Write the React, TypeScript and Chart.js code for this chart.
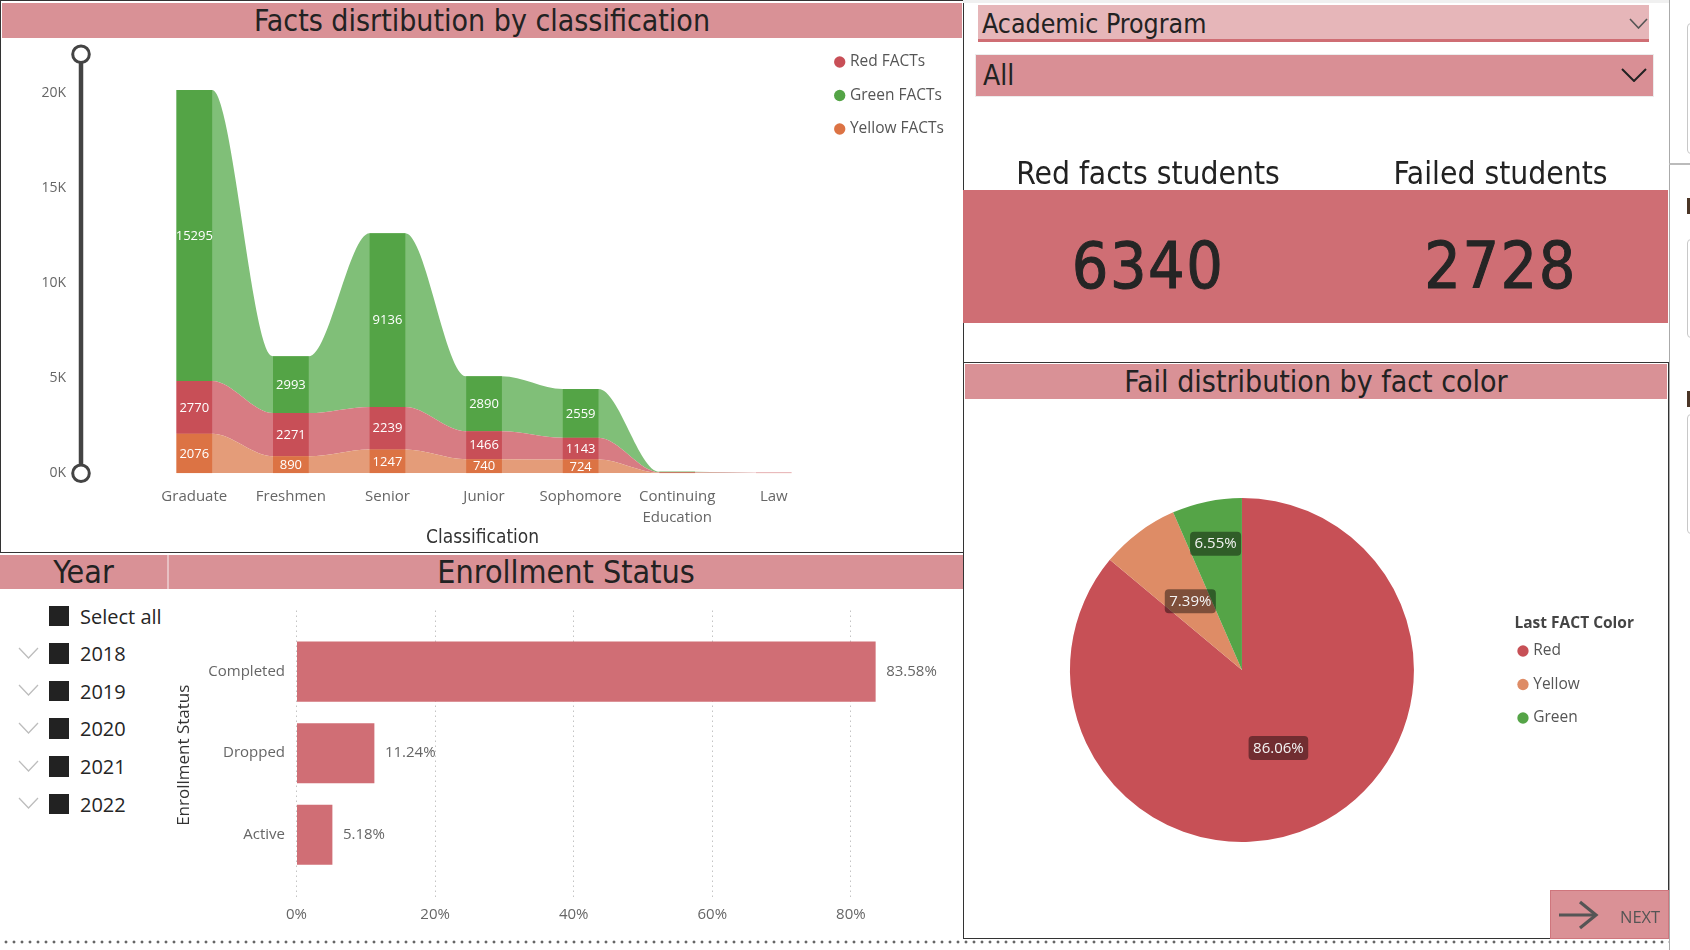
import React, { useEffect, useRef } from 'react';
import { Chart, registerables } from 'chart.js';

Chart.register(...registerables);

// ---------------- data ----------------
const classificationLabels: (string | string[])[] = ['Graduate', 'Freshmen', 'Senior', 'Junior', 'Sophomore', ['Continuing', 'Education'], 'Law'];
const yellowFacts = [2076, 890, 1247, 740, 724, 25, 10];
const redFacts = [2770, 2271, 2239, 1466, 1143, 25, 10];
const greenFacts = [15295, 2993, 9136, 2890, 2559, 25, 10];
const factSeriesNames = ['Yellow FACTs', 'Red FACTs', 'Green FACTs'];
const classYTicks = [0, 5000, 10000, 15000, 20000];

const enrollmentLabels = ['Completed', 'Dropped', 'Active'];
const enrollmentShares = [83.58, 11.24, 5.18];
const enrollmentTicks = [0, 20, 40, 60, 80];

const failColorLabels = ['Red', 'Yellow', 'Green'];
const failShares = [86.06, 7.39, 6.55];

const yearOptions = ['Select all', '2018', '2019', '2020', '2021', '2022'];
const kpiTitles = ['Red facts students', 'Failed students'];
const kpiValues = [6340, 2728];

// ---------------- styles ----------------
const DIN = "'Liberation Sans Narrow', 'DejaVu Sans Condensed', 'Roboto Condensed', 'Arial Narrow', sans-serif";
const SEGOE = "'Open Sans', 'Noto Sans', sans-serif";
const HEADER_BG = '#d99196';
const barColors = ['#dc7344', '#c84f57', '#54a446'];
const ribbonColors = ['#e49c79', '#d77c83', '#80bf78'];
const pieColors = ['#c75056', '#de8c66', '#55a447'];
const pieLabelRadius = [0.5, 0.5, 0.75];
const HALF = 0.185;
const seriesValues = [yellowFacts, redFacts, greenFacts];
const legendOrder: Record<number, number> = { 1: 0, 2: 1, 0: 2 };

const ribbonPoints = (values: number[]) =>
  values.flatMap((v, i) => [{ x: i - HALF, y: v }, { x: i + HALF, y: v }]);

// ---------------- plugins ----------------
const sliderPlugin = {
  id: 'rangeSlider',
  beforeDatasetsDraw(chart: any) {
    const { ctx, chartArea, scales } = chart;
    const x = chartArea.left - 65;
    const yBottom = scales.y.getPixelForValue(0);
    const yTop = chartArea.top + 18;
    ctx.save();
    ctx.strokeStyle = '#444';
    ctx.lineWidth = 4.5;
    ctx.beginPath();
    ctx.moveTo(x, yTop);
    ctx.lineTo(x, yBottom);
    ctx.stroke();
    ctx.lineWidth = 3;
    [yTop, yBottom].forEach((yy) => {
      ctx.beginPath();
      ctx.arc(x, yy, 8.3, 0, Math.PI * 2);
      ctx.fillStyle = '#fff';
      ctx.fill();
      ctx.stroke();
    });
    ctx.restore();
  },
};

const ribbonLabelPlugin = {
  id: 'ribbonLabels',
  afterDatasetsDraw(chart: any) {
    const ctx = chart.ctx;
    ctx.save();
    ctx.font = `13px ${SEGOE}`;
    ctx.fillStyle = '#ffffff';
    ctx.textAlign = 'center';
    ctx.textBaseline = 'middle';
    seriesValues.forEach((vals, k) => {
      const meta = chart.getDatasetMeta(k);
      meta.data.forEach((bar: any, i: number) => {
        const { x, y, base } = bar.getProps(['x', 'y', 'base'], true);
        if (Math.abs(base - y) < 10) return;
        ctx.fillText(String(vals[i]), x, (y + base) / 2 + 0.5);
      });
    });
    ctx.restore();
  },
};

const enrollmentLabelPlugin = {
  id: 'enrollmentLabels',
  afterDatasetsDraw(chart: any) {
    const ctx = chart.ctx;
    ctx.save();
    ctx.font = `15px ${SEGOE}`;
    ctx.fillStyle = '#666';
    ctx.textAlign = 'left';
    ctx.textBaseline = 'middle';
    chart.getDatasetMeta(0).data.forEach((bar: any, i: number) => {
      const { x, y } = bar.getProps(['x', 'y'], true);
      ctx.fillText(enrollmentShares[i].toFixed(2) + '%', x + 10.5, y);
    });
    ctx.restore();
  },
};

const pieLabelPlugin = {
  id: 'pieLabels',
  afterDatasetsDraw(chart: any) {
    const ctx = chart.ctx;
    ctx.save();
    ctx.font = `15px ${SEGOE}`;
    ctx.textAlign = 'center';
    ctx.textBaseline = 'middle';
    chart.getDatasetMeta(0).data.forEach((arc: any, i: number) => {
      const { x, y, startAngle, endAngle, outerRadius } = arc.getProps(['x', 'y', 'startAngle', 'endAngle', 'outerRadius'], true);
      const mid = (startAngle + endAngle) / 2;
      const r = outerRadius * pieLabelRadius[i];
      const cx = x + Math.cos(mid) * r;
      const cy = y + Math.sin(mid) * r;
      const text = failShares[i].toFixed(2) + '%';
      const w = ctx.measureText(text).width + 9;
      const h = 24;
      ctx.fillStyle = 'rgba(0,0,0,0.43)';
      ctx.beginPath();
      ctx.roundRect(cx - w / 2, cy - h / 2, w, h, 4);
      ctx.fill();
      ctx.fillStyle = '#f4f4f4';
      ctx.fillText(text, cx, cy + 0.5);
    });
    // legend title
    const lg = chart.legend;
    if (lg && lg.legendHitBoxes && lg.legendHitBoxes.length) {
      const hb = lg.legendHitBoxes[0];
      ctx.font = `bold 15.5px ${SEGOE}`;
      ctx.fillStyle = '#444';
      ctx.textAlign = 'left';
      ctx.fillText('Last FACT Color', hb.left - 6, hb.top + hb.height / 2 - 27);
    }
    ctx.restore();
  },
};

// ---------------- chart configs ----------------
const ribbonConfig = (): any => ({
  type: 'bar',
  data: {
    datasets: [
      ...seriesValues.map((vals, k) => ({
        type: 'bar',
        label: factSeriesNames[k],
        data: vals.map((v, i) => ({ x: i, y: v })),
        backgroundColor: barColors[k],
        borderWidth: 0,
        stack: 'facts',
        categoryPercentage: 1,
        barPercentage: HALF * 2,
      })),
      ...seriesValues.map((vals, k) => ({
        type: 'line',
        label: factSeriesNames[k] + ' ribbon',
        data: ribbonPoints(vals),
        backgroundColor: ribbonColors[k],
        borderColor: 'rgba(0,0,0,0)',
        borderWidth: 0,
        pointRadius: 0,
        cubicInterpolationMode: 'monotone',
        fill: k === 0 ? 'origin' : '-1',
      })),
    ],
  },
  options: {
    animation: false,
    responsive: true,
    maintainAspectRatio: false,
    events: [],
    layout: { autoPadding: false, padding: { top: 34.25, right: 8, left: 0, bottom: 0 } },
    plugins: {
      tooltip: { enabled: false },
      legend: {
        position: 'right',
        align: 'start',
        labels: {
          filter: (item: any) => item.datasetIndex < 3,
          sort: (a: any, b: any) => legendOrder[a.datasetIndex] - legendOrder[b.datasetIndex],
          usePointStyle: true,
          pointStyle: 'circle',
          boxWidth: 5,
          boxHeight: 8,
          padding: 18,
          color: '#555',
          font: { family: SEGOE, size: 15.5 },
        },
      },
    },
    scales: {
      x: {
        type: 'linear',
        offset: false,
        min: -0.5,
        max: 6.47,
        afterBuildTicks: (s: any) => {
          s.ticks = classificationLabels.map((_, i) => ({ value: i }));
        },
        afterFit: (s: any) => {
          s.height = 78.8;
          s.paddingLeft = 0;
          s.paddingRight = 0;
        },
        grid: { display: false, drawTicks: false, offset: false },
        border: { display: false },
        ticks: {
          callback: (v: any) => classificationLabels[v],
          color: '#666',
          font: { family: SEGOE, size: 15, lineHeight: 1.37 },
          padding: 13.5,
          maxRotation: 0,
          autoSkip: false,
        },
        title: {
          display: true,
          text: 'Classification',
          color: '#333',
          font: { family: DIN, size: 19 },
          padding: { top: 0, bottom: 3 },
        },
      },
      y: {
        type: 'linear',
        stacked: true,
        min: 0,
        max: 22973,
        afterBuildTicks: (s: any) => {
          s.ticks = classYTicks.map((v) => ({ value: v }));
        },
        afterFit: (s: any) => {
          s.width = 145;
          s.paddingTop = 0;
          s.paddingBottom = 0;
        },
        grid: { display: false, drawTicks: false },
        border: { display: false },
        ticks: {
          callback: (v: any) => v / 1000 + 'K',
          color: '#666',
          font: { family: SEGOE, size: 14 },
          padding: 80,
        },
      },
    },
  },
  plugins: [sliderPlugin, ribbonLabelPlugin],
});

const enrollmentConfig = (): any => ({
  type: 'bar',
  data: {
    datasets: [
      {
        label: 'Enrollment',
        data: enrollmentShares.map((v, i) => ({ x: v, y: i })),
        backgroundColor: '#d06e75',
        borderWidth: 0,
        categoryPercentage: 1,
        barPercentage: 0.737,
      },
    ],
  },
  options: {
    animation: false,
    responsive: true,
    maintainAspectRatio: false,
    events: [],
    indexAxis: 'y',
    layout: { autoPadding: false, padding: { top: 19, right: 10, left: 0, bottom: 0 } },
    plugins: { legend: { display: false }, tooltip: { enabled: false } },
    scales: {
      x: {
        type: 'linear',
        min: 0,
        max: 94.6,
        afterBuildTicks: (s: any) => {
          s.ticks = enrollmentTicks.map((v) => ({ value: v }));
        },
        afterFit: (s: any) => {
          s.height = 42;
        },
        grid: { color: '#c4c4c4', lineWidth: 1, drawTicks: false },
        border: { display: false, dash: [1.5, 3.5] },
        ticks: {
          callback: (v: any) => v + '%',
          color: '#666',
          font: { family: SEGOE, size: 15 },
          padding: 6,
        },
      },
      y: {
        type: 'linear',
        offset: false,
        reverse: true,
        min: -0.75,
        max: 2.8,
        afterBuildTicks: (s: any) => {
          s.ticks = enrollmentLabels.map((_, i) => ({ value: i }));
        },
        afterFit: (s: any) => {
          s.width = 127.5;
        },
        grid: { display: false, drawTicks: false, offset: false },
        border: { display: false },
        ticks: {
          callback: (v: any) => enrollmentLabels[v],
          color: '#666',
          font: { family: SEGOE, size: 15 },
          padding: 11.5,
        },
        title: {
          display: true,
          text: 'Enrollment Status',
          color: '#333',
          font: { family: SEGOE, size: 17 },
          padding: { top: 4.8, bottom: 0 },
        },
      },
    },
  },
  plugins: [enrollmentLabelPlugin],
});

const pieConfig = (): any => ({
  type: 'pie',
  data: {
    labels: failColorLabels,
    datasets: [{ data: failShares, backgroundColor: pieColors, borderWidth: 0 }],
  },
  options: {
    animation: false,
    responsive: true,
    maintainAspectRatio: false,
    events: [],
    layout: { padding: { top: 98, bottom: 94, left: 17.4, right: 77.25 } },
    plugins: {
      tooltip: { enabled: false },
      legend: {
        position: 'right',
        align: 'center',
        title: { display: true, text: '', padding: { top: 0, bottom: 10.4 }, font: { family: SEGOE, size: 15.5 } },
        labels: {
          usePointStyle: true,
          pointStyle: 'circle',
          boxWidth: 5,
          boxHeight: 8,
          padding: 18,
          color: '#555',
          font: { family: SEGOE, size: 15.5 },
        },
      },
    },
  },
  plugins: [pieLabelPlugin],
});

// ---------------- components ----------------
function ChartCanvas({ config, style }: { config: () => any; style: React.CSSProperties }) {
  const ref = useRef<HTMLCanvasElement>(null);
  useEffect(() => {
    const chart = new Chart(ref.current as HTMLCanvasElement, config());
    return () => chart.destroy();
  }, []);
  return (
    <div style={{ position: 'absolute', ...style }}>
      <canvas ref={ref} />
    </div>
  );
}

function Box({ l, t, w, h, style, children }: any) {
  return (
    <div style={{ position: 'absolute', left: l, top: t, width: w, height: h, boxSizing: 'border-box', ...style }}>
      {children}
    </div>
  );
}

function Chevron({ l, t, w, h, color, sw }: any) {
  return (
    <svg width={w + 2} height={h + 2} style={{ position: 'absolute', left: l - 1, top: t - 1 }}>
      <polyline points={`1,1 ${w / 2 + 1},${h + 1} ${w + 1},1`} fill="none" stroke={color} strokeWidth={sw} />
    </svg>
  );
}

const centered: React.CSSProperties = { display: 'flex', alignItems: 'center', justifyContent: 'center' };

export default function App() {
  const yearRows = [616, 653.5, 691, 728.7, 766.5, 804];
  return (
    <div style={{ position: 'fixed', left: 0, top: 0, width: 1690, height: 950, background: '#fff', overflow: 'hidden' }}>
      {/* top-left panel */}
      <Box l={0} t={0} w={964} h={553} style={{ border: '1.5px solid #333' }} />
      <Box l={2} t={3} w={960} h={35} style={{ ...centered, background: HEADER_BG, fontFamily: DIN, fontSize: 30, color: '#222' }}>
        Facts disrtibution by classification
      </Box>
      <ChartCanvas config={ribbonConfig} style={{ left: 1, top: 2, width: 961, height: 550 }} />

      {/* lower-left headers */}
      <Box l={0} t={555} w={167} h={34} style={{ ...centered, background: HEADER_BG, fontFamily: DIN, fontSize: 32, color: '#222' }}>
        Year
      </Box>
      <Box l={167} t={555} w={2} h={34} style={{ background: '#e8c0c3' }} />
      <Box l={169} t={555} w={794} h={34} style={{ ...centered, background: HEADER_BG, fontFamily: DIN, fontSize: 32, color: '#222' }}>
        Enrollment Status
      </Box>

      {/* year slicer */}
      {yearOptions.map((y, i) => (
        <React.Fragment key={y}>
          {i > 0 && <Chevron l={19} t={yearRows[i] - 6} w={19} h={10} color="#bdbdbd" sw={1.3} />}
          <Box l={48.5} t={yearRows[i] - 10.25} w={20.5} h={20.5} style={{ background: '#222' }} />
          <Box l={80} t={yearRows[i] - 15} w={120} h={30} style={{ display: 'flex', alignItems: 'center', fontFamily: SEGOE, fontSize: 20, color: '#252525' }}>
            {y}
          </Box>
        </React.Fragment>
      ))}

      <ChartCanvas config={enrollmentConfig} style={{ left: 169, top: 590, width: 793, height: 352 }} />

      {/* right top */}
      <Box l={963} t={0} w={706} h={3} style={{ background: '#f0f0f0' }} />
      <Box l={978} t={5} w={671} h={37} style={{ display: 'flex', alignItems: 'center', paddingLeft: 4, paddingTop: 2, background: '#e6b6b9', borderBottom: '3.5px solid #cf6e74', fontFamily: DIN, fontSize: 26.5, color: '#222' }}>
        Academic Program
      </Box>
      <Chevron l={1630} t={19} w={17} h={9} color="#555" sw={1.6} />
      <Box l={975} t={54} w={679} h={43} style={{ display: 'flex', alignItems: 'center', paddingLeft: 7, background: '#d98f95', border: '1.5px solid #ececec', fontFamily: DIN, fontSize: 28, color: '#222' }}>
        All
      </Box>
      <Chevron l={1622} t={69} w={24} h={12} color="#222" sw={2} />

      {/* KPIs */}
      {kpiTitles.map((t, i) => (
        <Box key={t} l={[1148, 1500.5][i] - 200} t={152.5} w={400} h={40} style={{ ...centered, fontFamily: DIN, fontSize: 31.5, color: '#222' }}>
          {t}
        </Box>
      ))}
      <Box l={963} t={190} w={705} h={133} style={{ background: '#cf6e74' }} />
      {kpiValues.map((v, i) => (
        <Box key={i} l={[1148, 1500.5][i] - 200} t={226} w={400} h={80} style={{ ...centered, fontFamily: DIN, fontSize: 64, color: '#252525', letterSpacing: 1.5, WebkitTextStroke: '1px #252525' }}>
          {String(v)}
        </Box>
      ))}

      {/* fail panel */}
      <Box l={963} t={362} w={706} h={577} style={{ border: '1.5px solid #333' }} />
      <Box l={965} t={364} w={702} h={35} style={{ ...centered, background: HEADER_BG, fontFamily: DIN, fontSize: 30, color: '#222' }}>
        Fail distribution by fact color
      </Box>
      <ChartCanvas config={pieConfig} style={{ left: 964, top: 400, width: 703, height: 536 }} />

      {/* next button */}
      <Box l={1550} t={890} w={119} h={49} style={{ background: '#da9196', border: '1px solid #cf767d' }} />
      <svg width={42} height={30} style={{ position: 'absolute', left: 1557, top: 900 }}>
        <line x1={2} y1={15} x2={39} y2={15} stroke="#555" strokeWidth={3.2} />
        <polyline points="23,2 39,15 23,28" fill="none" stroke="#555" strokeWidth={3.2} />
      </svg>
      <Box l={1620} t={902} w={50} h={28} style={{ display: 'flex', alignItems: 'center', fontFamily: SEGOE, fontSize: 16.5, color: '#555' }}>
        NEXT
      </Box>

      {/* bottom dotted line */}
      <Box l={0} t={939} w={1669} h={6} style={{ backgroundImage: 'radial-gradient(circle, #666 1.3px, rgba(255,255,255,0) 1.7px)', backgroundSize: '8px 6px', backgroundPosition: '2px 0' }} />

      {/* right strip */}
      <Box l={1668.5} t={0} w={1.5} h={950} style={{ background: '#aaa' }} />
      <Box l={1669} t={163} w={21} h={1.5} style={{ background: '#bbb' }} />
      {[[23, 131], [239, 99], [414, 120]].map(([t, h], i) => (
        <Box key={i} l={1687} t={t} w={20} h={h} style={{ border: '1.5px solid #c8c8c8', borderRadius: 4 }} />
      ))}
      <Box l={1687} t={198} w={3} h={16} style={{ background: '#4a3526' }} />
      <Box l={1687} t={391} w={3} h={16} style={{ background: '#4a3526' }} />
    </div>
  );
}
